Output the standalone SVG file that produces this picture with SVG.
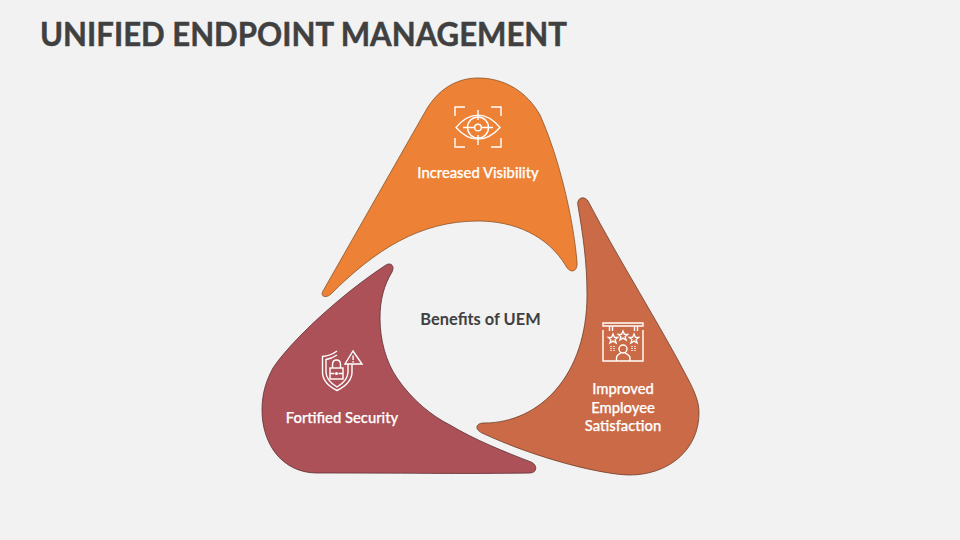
<svg xmlns="http://www.w3.org/2000/svg" width="960" height="540" viewBox="0 0 960 540">
<style>
text{font-family:"Lato","Open Sans","Liberation Sans",sans-serif}
.t{font-size:14.8px;fill:#fff;stroke:#fff;stroke-width:.25;text-anchor:middle;font-weight:500}
.b{stroke-width:.8}
.i{fill:none;stroke:#fff;stroke-width:1.4}
.w{fill:#fff}
</style>
<rect width="960" height="540" fill="#f2f2f2"/>
<text x="40" y="46" font-size="33" font-weight="700" fill="#404040" stroke="#404040" stroke-width=".5" textLength="527" lengthAdjust="spacingAndGlyphs">UNIFIED ENDPOINT MANAGEMENT</text>
<g id="center"><text x="480.500" y="324.500" font-size="16.400" font-weight="700" fill="#404040" text-anchor="middle">Benefits of UEM</text></g>
<g id="node-visibility">
<path class="b" stroke="#8a5226" fill="#ed8236" d="M323 291L425 112C437 90 456 78 478 78C505 78 527 92 540 115C558 155 573 215 577 262C578 272 570 274 566 266C548 236 515 221 478 221C420 221 375 250 331 294C325 299 320 296 323 291Z"/>
<path class="i" d="M455 116V107H465M491 107H501V116M455 138V147H465M491 147H501V138"/>
<path class="i" d="M456 127.500C470 111 486 111 500 127.500C486 143 470 143 456 127.500Z"/>
<circle class="i" cx="478" cy="127.500" r="10.500"/><circle class="i" cx="478" cy="127.500" r="3.300"/>
<path class="i" d="M478 110V120M478 135V145M463 127.500H474.700M481.300 127.500H493"/>
<text class="t" x="478" y="178">Increased Visibility</text>
</g>
<g id="node-satisfaction">
<path class="b" stroke="#6e3f2a" fill="#cb6a47" d="M578 206C576 198 584 195 588 201C620 262 660 325 687 377C695 392 699 402 699 413C699 450 668 475 630 475C605 475 540 460 482 433C474 429 476 423 484 423C540 423 587 375 587 295C587 262 583 235 578 206Z"/>
<g class="i"><path d="M603 323H643V326H603ZM609.500 326V331M612.500 326V331M634.500 326V331M637.500 326V331M603 330V361H643V330"/>
<path stroke-width="1.300" d="M613 334l1.400 3.300h3.400l-2.700 2.300 1.100 3.500-3.200-2-3.200 2 1.100-3.500-2.700-2.300h3.400ZM623 331l1.400 3.300h3.400l-2.700 2.300 1.100 3.500-3.200-2-3.200 2 1.100-3.500-2.700-2.300h3.400ZM634 334l1.400 3.300h3.400l-2.700 2.300 1.100 3.500-3.200-2-3.200 2 1.100-3.500-2.700-2.300h3.400Z"/>
<circle cx="623" cy="349" r="4"/><path d="M616.500 361V358C616.500 355 619 354 621 353M630 361V358C630 355 627 354 625 353"/></g>
<path class="i" stroke-dasharray="1 1" d="M611 346v6M614 346v6M632 346v6M635 346v6"/>
<text class="t" x="623" y="394">Improved</text><text class="t" x="623" y="413">Employee</text><text class="t" x="623" y="431">Satisfaction</text>
</g>
<g id="node-security">
<path class="b" stroke="#5e2f33" fill="#ad5158" d="M386 265C391 262 395 266 392 272C384 285 380 300 380 318C380 340 386 362 397 378C412 400 432 416 450 425C475 440 505 452 531 462C538 465 537 473 530 473C470 474 390 473 317 473C283 473 262 445 262 410C262 392 267 379 273 368C290 342 340 295 386 265Z"/>
<path class="i" stroke-width="1.200" d="M337 351C333 354 328 356 322.500 356.500V372C322.500 381 330 387 337 390.500C344 387 352 381 352 372V359"/>
<path class="i" stroke-width=".9" d="M337 355C334 357 330 359 326 359.500V372C326 379 332 384 337 387C342 384 348 379 348 372V362"/>
<rect class="i" stroke-width="1.200" x="330" y="368" width="13" height="11"/><path class="i" stroke-width="1.200" d="M332.500 368V364.500C332.500 358.500 340.500 358.500 340.500 364.500V368M330 373.500H334.500M338.500 373.500H343"/>
<circle class="w" cx="336.500" cy="373.500" r="1.500"/>
<path fill="#ad5158" stroke="#fff" stroke-width="1.400" d="M353 351L362 364H345Z"/>
<path class="w" d="M352.400 355.500h1.400v4.500h-1.400zM352.400 361h1.400v1.400h-1.400z"/>
<text class="t" x="342" y="423">Fortified Security</text>
</g>
</svg>
